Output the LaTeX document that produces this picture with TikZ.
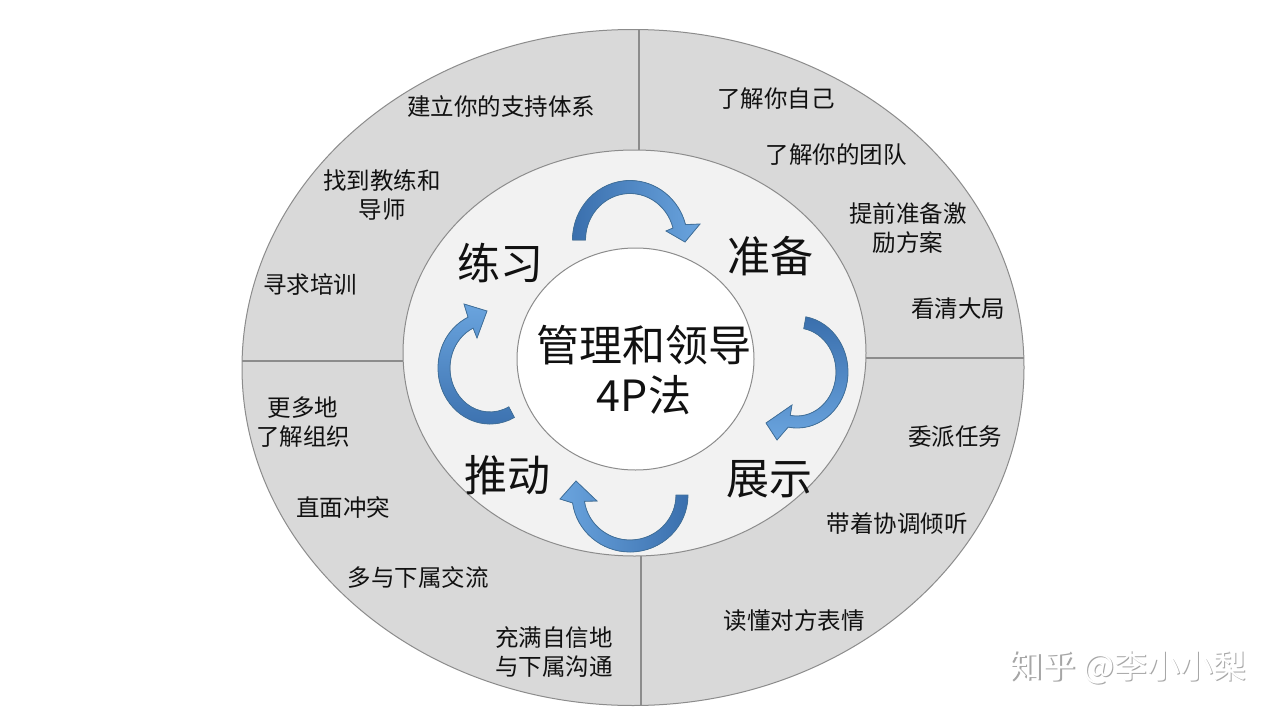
\documentclass[tikz,border=0pt]{standalone}
\usepackage{fontspec}
\setmainfont{Noto Sans CJK SC}
\usetikzlibrary{calc}
\definecolor{outerfill}{HTML}{D9D9D9}
\definecolor{midfill}{HTML}{F2F2F2}
\definecolor{edgegray}{HTML}{8C8C8C}
\definecolor{arrdark}{HTML}{3A6FAD}
\definecolor{arrlight}{HTML}{6AA4DE}
\definecolor{arredge}{HTML}{41719C}
\definecolor{txt}{HTML}{111111}
\definecolor{wmgray}{HTML}{A6A6A6}
% #1 cx, #2 cy, #3 rx, #4 ry, #5 width, #6 start, #7 end, #8 head path, #9 style
\newcommand\bluearrow[9]{%
  \filldraw[#9]
    ({#1+(#3+#5/2)*cos(#6)},{#2+(#4+#5/2)*sin(#6)})
    arc[start angle=#6,end angle=#7,x radius={#3+#5/2},y radius={#4+#5/2}]
    -- #8 --
    ({#1+(#3-#5/2)*cos(#7)},{#2+(#4-#5/2)*sin(#7)})
    arc[start angle=#7,end angle=#6,x radius={#3-#5/2},y radius={#4-#5/2}]
    -- cycle;}
\tikzset{
  lbl/.style={text=txt,font=\fontsize{23.5}{29}\selectfont,align=center,inner sep=0pt},
  big/.style={text=txt,font=\fontsize{43}{50}\selectfont,align=center,inner sep=0pt},
  arr/.style={draw=arredge,line width=0.8pt},
  divline/.style={draw=edgegray,line width=1.3pt},
  wm/.style={font=\fontsize{33}{33}\selectfont,inner sep=0pt}
}
\begin{document}
\begin{tikzpicture}[x=1pt,y=-1pt]
\useasboundingbox (0,0) rectangle (1280,720);
\fill[white] (0,0) rectangle (1280,720);
% outer ring
\filldraw[fill=outerfill,draw=edgegray,line width=1pt] (633,367.5) ellipse [x radius=391,y radius=338];
\draw[divline] (639,29.6) -- (639,200);
\draw[divline] (242.1,361) -- (450,361);
\draw[divline] (1023.8,358) -- (820,358);
\draw[divline] (641,705.4) -- (641,520);
% middle ring
\filldraw[fill=midfill,draw=edgegray,line width=1pt] (634.5,353) ellipse [x radius=231.5,y radius=203];
% inner ellipse
\filldraw[fill=white,draw=edgegray,line width=1pt] (635.5,359) ellipse [x radius=118.5,y radius=111];
% arrows
\bluearrow{630}{240}{51}{53}{13}{180}{345}{(700,224) -- (685,242) -- (666,231)}{arr,left color=arrdark,right color=arrlight}
\bluearrow{797}{372}{45}{50}{12}{280}{460}{(777,440) -- (766,423) -- (792,405)}{arr,top color=arrdark,bottom color=arrlight}
\bluearrow{630}{495}{52}{51}{12}{0}{172}{(560,499) -- (576,481) -- (597,501)}{arr,right color=arrdark,left color=arrlight}
\bluearrow{490}{368}{46}{50}{12}{62}{245}{(464,304) -- (487,311) -- (477,338)}{arr,bottom color=arrdark,top color=arrlight}
% centre
\node[big] (core) at (644,370) {管理和领导\\4P法};
% stage labels
\node[big] (p1) at (500,263) {练习};
\node[big] (p2) at (770,256) {准备};
\node[big] (p3) at (507,475) {推动};
\node[big] (p4) at (769,479) {展示};
% outer labels
\node[lbl] (a1) at (501,107) {建立你的支持体系};
\node[lbl] (a2) at (382,195) {找到教练和\\导师};
\node[lbl] (a3) at (310,285) {寻求培训};
\node[lbl] (b1) at (776,99) {了解你自己};
\node[lbl] (b2) at (836,155) {了解你的团队};
\node[lbl] (b3) at (908,228) {提前准备激\\励方案};
\node[lbl] (b4) at (958,309) {看清大局};
\node[lbl] (c1) at (303,422) {更多地\\了解组织};
\node[lbl] (c2) at (343,507) {直面冲突};
\node[lbl] (c3) at (418,577) {多与下属交流};
\node[lbl] (c4) at (554,652) {充满自信地\\与下属沟通};
\node[lbl] (d1) at (955,437) {委派任务};
\node[lbl] (d2) at (897,524) {带着协调倾听};
\node[lbl] (d3) at (794,621) {读懂对方表情};
% watermark
\node[wm,text=wmgray] (wms) at (1129.5,668.5) {知乎 @李小小梨};
\node[wm,text=white] (wmk) at (1128,667) {知乎 @李小小梨};
\end{tikzpicture}
\end{document}
